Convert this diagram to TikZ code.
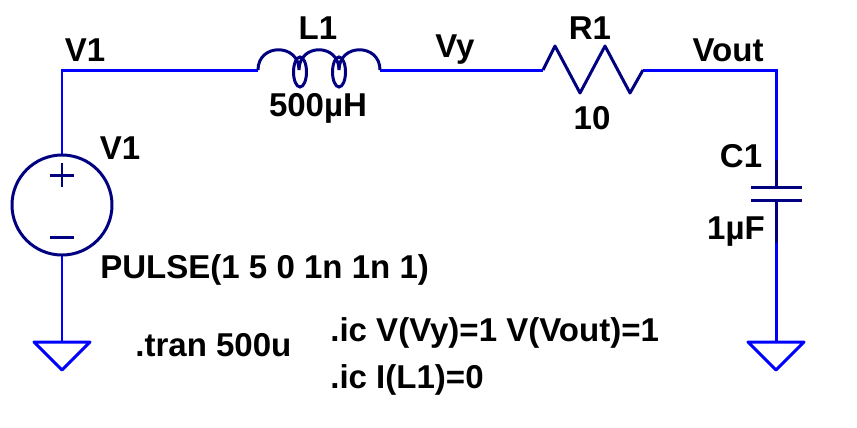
\documentclass[tikz,border=0pt]{standalone}
\usepackage{fontspec}
\setmainfont{Liberation Sans}
\definecolor{wireblue}{RGB}{0,0,255}
\definecolor{partnavy}{RGB}{0,0,128}
\tikzset{
  wire/.style={wireblue, line width=1.7pt},
  part/.style={partnavy, line width=1.7pt},
  lbl/.style={font=\fontsize{18.8}{21}\selectfont\bfseries, inner sep=0pt},
  gnd/.style={wireblue, line width=1.7pt, line join=round}
}
\begin{document}
\begin{tikzpicture}[x=0.02cm, y=-0.02cm]
   \useasboundingbox (0,0) rectangle (857,427);

   % Nodes of the net
   \coordinate (nV1) at (62,70);
   \coordinate (lA) at (258,70);
   \coordinate (lB) at (380,70);
   \coordinate (rA) at (543,70);
   \coordinate (rB) at (643,70);
   \coordinate (nOut) at (776,70);
   \coordinate (cTop) at (776,187);
   \coordinate (cBot) at (776,200);
   \coordinate (sTop) at (62,155);
   \coordinate (sBot) at (62,255);
   \coordinate (gL) at (62,342);
   \coordinate (gR) at (776,342);

   % Wires
   \draw[wire] (sTop) -- (nV1) -- (lA);
   \draw[wire] (lB) -- (rA);
   \draw[wire] (rB) -- (nOut) -- (776,160);
   \draw[wire] (776,243) -- (gR);
   \draw[wire] (sBot) -- (gL);

   % Inductor L1
   \draw[part] (lA) .. controls (258,43) and (299,43) .. (299,70)
               .. controls (299,43) and (339,43) .. (339,70)
               .. controls (339,43) and (lB |- 0,43) .. (lB);
   \draw[part] (300,72) ellipse[x radius=6.5, y radius=15];
   \draw[part] (339,72) ellipse[x radius=6.5, y radius=15];

   % Resistor R1
   \draw[part, line join=round] (rA) -- (555,46) -- (580,93) -- (605,46) -- (630,93) -- (rB);

   % Capacitor C1
   \draw[part] (776,160) -- (cTop);
   \draw[part] (cBot) -- (776,243);
   \draw[part] (751,187) -- (802,187);
   \draw[part] (751,200) -- (802,200);

   % Source V1
   \draw[part] (62,205) circle[radius=50];
   \draw[part] (50,175) -- (74,175) (62,163) -- (62,187);
   \draw[part] (50,237) -- (74,237);

   % Grounds
   \foreach \gx in {62,776}
     \draw[gnd] (\gx-28,342) -- (\gx+28,342) -- (\gx,370) -- cycle;

   % Labels
   \node[lbl] (tV1) at (85,50) {V1};
   \node[lbl] (tL1) at (318,28) {L1};
   \node[lbl] (tLv) at (318,108) {500µH};
   \node[lbl] (tVy) at (455,50) {Vy};
   \node[lbl] (tR1) at (590,28) {R1};
   \node[lbl] (tRv) at (592,118) {10};
   \node[lbl] (tVout) at (728,50) {Vout};
   \node[lbl] (tSrc) at (120,148) {V1};
   \node[lbl] (tC1) at (741,156) {C1};
   \node[lbl] (tCv) at (736,232) {1µF};
   \node[lbl, anchor=west] (tPulse) at (100,270) {PULSE(1 5 0 1n 1n 1)};
   \node[lbl, anchor=west] (tTran) at (135,345) {.tran 500u};
   \node[lbl, anchor=west] (tIc1) at (330,333) {.ic V(Vy)=1 V(Vout)=1};
   \node[lbl, anchor=west] (tIc2) at (330,380) {.ic I(L1)=0};
\end{tikzpicture}
\end{document}
